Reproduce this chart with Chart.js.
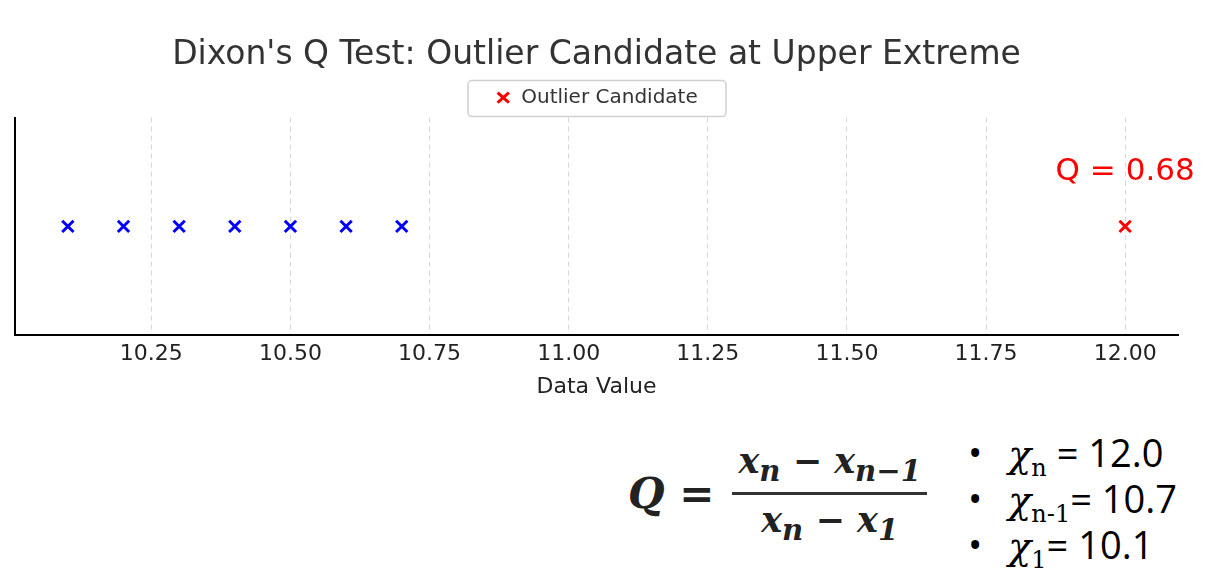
<!DOCTYPE html>
<html>
<head>
<meta charset="utf-8">
<script src="https://cdn.jsdelivr.net/npm/chart.js@4.4.0/dist/chart.umd.min.js"></script>
<style>
  body { margin: 0; background: #fff; width: 1217px; height: 587px; overflow: hidden; position: relative; font-family: "DejaVu Sans", sans-serif; }
  #wrap { position: absolute; left: 0; top: 0; width: 1217px; height: 410px; }
  #formula { position: absolute; left: 628px; top: 440px; font-family: "DejaVu Serif", serif; font-size: 42px; color: #222; display: flex; align-items: center; font-weight: bold; }
  .frac { display: inline-flex; flex-direction: column; align-items: center; margin-left: 18px; font-style: italic; font-size: 35px; }
  .frac .num { padding: 0 6px 4px; border-bottom: 3px solid #333; }
  .frac .den { padding-top: 4px; }
  #vals { position: absolute; left: 968px; top: 430px; font-family: "Open Sans", "Noto Sans", sans-serif; font-size: 38px; color: #000; line-height: 44px; }
  #vals .chi { font-family: "DejaVu Serif", serif; font-style: italic; margin-left: 26px; }
  #vals sub { font-family: "DejaVu Serif", serif; font-style: normal; font-size: 24px; line-height: 0; }
</style>
</head>
<body>
<div id="wrap"><canvas id="chart"></canvas></div>
<div id="formula"><i>Q</i>&nbsp;=<span class="frac"><span class="num">x<sub>n</sub> − x<sub>n−1</sub></span><span class="den">x<sub>n</sub> − x<sub>1</sub></span></span></div>
<div id="vals">
  <div>•<span class="chi">χ<sub>n</sub></span> = 12.0</div>
  <div>•<span class="chi">χ<sub>n-1</sub></span>= 10.7</div>
  <div>•<span class="chi">χ<sub>1</sub></span>= 10.1</div>
</div>
<script>
const normalValues = [10.1, 10.2, 10.3, 10.4, 10.5, 10.6, 10.7];
const outlierValues = [12.0];
const qLabel = 'Q = 0.68';
const xTicks = [10.25, 10.5, 10.75, 11.0, 11.25, 11.5, 11.75, 12.0];

const legendBorder = {
  id: 'legendBorder',
  beforeDraw(chart) {
    const l = chart.legend, ctx = chart.ctx;
    ctx.save();
    ctx.strokeStyle = '#d0d0d0';
    ctx.lineWidth = 1.5;
    ctx.beginPath();
    ctx.roundRect(468, l.top + 1, 258, l.height - 2, 4);
    ctx.stroke();
    ctx.restore();
  }
};

const qText = {
  id: 'qText',
  afterDatasetsDraw(chart) {
    const ctx = chart.ctx, x = chart.scales.x, y = chart.scales.y;
    ctx.save();
    ctx.fillStyle = '#ff0000';
    ctx.font = '31px "DejaVu Sans"';
    ctx.textAlign = 'center';
    ctx.textBaseline = 'middle';
    ctx.fillText(qLabel, x.getPixelForValue(outlierValues[0]), y.getPixelForValue(0.5));
    ctx.restore();
  }
};

new Chart(document.getElementById('chart'), {
  type: 'scatter',
  data: {
    datasets: [
      {
        label: 'Data',
        data: normalValues.map(v => ({ x: v, y: 0 })),
        pointStyle: 'crossRot', radius: 8, borderWidth: 3,
        borderColor: '#0000ff', backgroundColor: '#0000ff'
      },
      {
        label: 'Outlier Candidate',
        data: outlierValues.map(v => ({ x: v, y: 0 })),
        pointStyle: 'crossRot', radius: 8, borderWidth: 3,
        borderColor: '#ff0000', backgroundColor: '#ff0000'
      }
    ]
  },
  options: {
    responsive: true,
    maintainAspectRatio: false,
    animation: false,
    layout: { padding: { left: 15, right: 39, top: 36, bottom: 6 } },
    plugins: {
      title: {
        display: true, text: "Dixon's Q Test: Outlier Candidate at Upper Extreme",
        color: '#333', font: { family: 'DejaVu Sans', size: 33, weight: 'normal' },
        padding: { top: 0, bottom: 4 }
      },
      legend: {
        labels: {
          filter: item => item.text === 'Outlier Candidate',
          usePointStyle: true, pointStyleWidth: 16, boxHeight: 10,
          color: '#333', font: { family: 'DejaVu Sans', size: 20 }, padding: 8
        }
      },
      tooltip: { enabled: false }
    },
    scales: {
      x: {
        min: 10.005, max: 12.095,
        afterBuildTicks: s => { s.ticks = xTicks.map(v => ({ value: v })); },
        ticks: { color: '#222', font: { family: 'DejaVu Sans', size: 22 }, callback: v => v.toFixed(2), padding: 6 },
        grid: { color: '#d6d6d6', drawTicks: false, lineWidth: 1 },
        border: { color: '#000', width: 2, dash: [5, 4] },
        title: { display: true, text: 'Data Value', color: '#222', font: { family: 'DejaVu Sans', size: 22 }, padding: { top: 0 } }
      },
      y: {
        min: -1, max: 1,
        ticks: { display: false },
        grid: { display: false },
        border: { color: '#000', width: 2 },
        afterFit: s => { s.width = 0; }
      }
    }
  },
  plugins: [legendBorder, qText]
});
</script>
</body>
</html>
